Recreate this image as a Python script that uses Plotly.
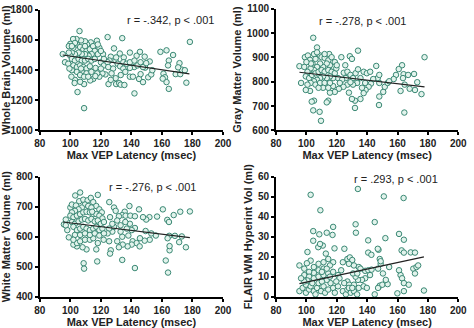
import plotly.graph_objects as go

# ---------------- data ----------------
wbv_x = [178.3,106,124.4,134,159,163,167.3,164.5,164,161,162,163,164.5,160.5,169,172,171.5,173,170.6,175,176,142,109,104.7,109,106.4,103,125,130,132,133,135.4,139,141,145,147.6,146,151,153,153.7,149,152,148.7,145.6,143.4,141.8,139,139,135,134.7,132.4,128.6,126.5,125.6,128,127,123,121,119,117.6,115,113,116.5,120,121.4,119,117.4,113.4,111,109.6,107,104,101.8,100,99,102,104.3,106.4,108.5,110.6,112.8,114.9,116,114,112,109.6,107.5,105.4,103,101,100,95,96.5,101,103,105.4,107.5,109.6,111.7,113.8,116,102,104.3,106.4,108.5,110.6,112.8,101,104.3,107.5,110.6,113.8,106.4,122,124.4,122,129.6,131,130,132.6,134.7,136.8,139,142,144,146,147.6,149.7,136,133,129.7,126.5,124.8,118,120,118,109.6,103,101,99,98.6,99.4,100.7,102.8,107,109,111.7,116.4,120]
wbv_y = [1587,1659,1619,1612,1521,1531,1500,1463,1431,1376,1352,1320,1275,1343,1373,1373,1446,1403,1418,1399,1316,1245,1147,1254,1307,1322,1335,1307,1307,1313,1303,1301,1356,1356,1341,1320,1373,1352,1371,1399,1416,1457,1489,1521,1495,1420,1414,1516,1484,1452,1510,1544,1489,1463,1410,1378,1371,1378,1356,1378,1341,1331,1414,1452,1506,1548,1595,1584,1570,1591,1597,1606,1606,1574,1559,1548,1570,1553,1538,1527,1538,1559,1527,1506,1495,1506,1506,1516,1506,1516,1495,1506,1452,1474,1463,1474,1463,1463,1474,1463,1474,1431,1420,1431,1420,1410,1425,1399,1388,1388,1378,1388,1367,1431,1452,1474,1463,1442,1484,1425,1410,1442,1452,1463,1431,1452,1420,1446,1388,1367,1346,1335,1420,1506,1527,1570,1559,1580,1559,1516,1442,1410,1356,1314,1410,1356,1356,1360,1410]
wbv_fit_x = [95, 178]
wbv_fit_y = [1500, 1375]

gm_x = [177.8,104.5,107,115,123,128.6,130,134,146,163,160.8,159,164,167,170.9,163.6,164.7,162,168,171.5,173,175.8,164.5,147.8,148,150.6,151.6,153.5,148,147,148,144,142.5,141,139,137.7,135.6,132,132,130,128,127,126,124.6,125.6,127,129,130.7,132.4,134,135.6,133.4,130.7,137.7,139.8,142,138.7,136.6,124.4,121.4,118.7,117.6,115.5,114.4,113.4,108.7,104.5,109.6,105,103.5,102.4,99.6,96.5,95.4,98.6,99,101,102.4,104,106,109,110,112,114.4,116.6,118.7,117.6,115.5,113.4,111,109,107,105,102.8,100.7,99.6,101.8,103.7,106,108,110,112,114.4,116.6,118.7,119.7,120.8,117.6,115.5,113.4,111,109,107,105,102.8,100.7,106,109,112,115.5,111,108,114.4,103,100,105,107,112,120,123.5,122,129,157.5,154.5]
gm_y = [901,981,941,914,901,905,894,928,865,868,852,828,831,828,832,815,788,762,771,766,798,749,673,704,739,758,779,795,795,815,828,811,792,779,766,753,729,722,692,729,755,788,815,837,868,841,828,815,835,851,815,795,788,841,835,841,795,775,779,771,758,782,755,722,715,676,682,639,722,718,762,766,795,864,861,901,908,890,875,894,908,901,898,888,901,881,861,868,875,861,875,861,848,855,841,822,815,828,835,841,848,841,848,841,835,855,815,815,822,815,822,815,808,802,795,788,788,795,795,795,775,775,775,875,881,914,921,914,868,808,795,798,811,802]
gm_fit_x = [95.4, 177.8]
gm_fit_y = [839, 779]

wm_x = [178.3,106.4,103.2,118,125.5,160.6,145,172,167.7,163.5,164.6,156.8,151.8,149.7,147.6,138.7,135.6,134,136.2,139.3,142.3,139,142.3,140.2,138,140.8,143.4,140.2,137.5,134.3,131.8,130.7,134,127.5,128.6,127.5,126,128.6,129.7,131.8,125.4,124.4,125.4,126.5,126,121.8,118,117,117.6,108.7,109,142.3,134,162.5,164,165,165,164.8,163.7,168.5,173,171.3,175.7,156,153,149.3,152,148.7,145.6,145.4,110.6,108,104.3,102,104.3,106.4,109.6,112.8,115,95.8,97,99,100,101,103.7,105.8,108.5,111.3,113.4,115,117,119,120.6,109.6,111.7,113.8,107.5,105.4,103,101,100,102,104.3,106.4,108.5,110.6,112.8,115,117,119,121,101,103,105.4,107.5,109.6,111.7,113.8,116,118,120,122,102,104.3,106.4,108.5,110.6,112.8,115,117,119,121,103,106.4,109.6,112.8,116,119,122,102,98,97,114.3,130.7,132.9,136,137,132.9]
wm_y = [684,747,737,739,715,691,691,683,672,656,649,667,665,657,665,702,683,672,670,670,668,643,629,622,604,585,579,574,568,574,565,585,600,617,633,643,665,697,686,668,627,611,585,555,544,590,579,558,518,512,494,496,523,521,481,555,569,603,595,603,601,582,565,604,611,619,590,587,595,568,558,565,568,574,579,585,590,590,595,641,657,598,697,707,704,718,723,721,729,715,702,691,681,707,702,697,697,691,686,681,670,665,670,675,681,683,681,675,675,670,661,649,643,651,657,659,654,659,651,654,643,649,633,622,627,633,627,622,627,633,622,627,606,606,611,606,611,604,611,590,622,638,683,654,638,649,627,617]
wm_fit_x = [95.2, 178.3]
wm_fit_y = [649, 597]

fl_x = [133.9,102.8,151,164,109.2,132.4,145,117.6,132.6,104.5,113.4,117.2,108.5,161,152,164.2,140.7,104.5,110.8,107.8,118.5,125,140.7,142.8,147.5,147,162.7,164.2,168.7,171.5,100.7,112.8,109,102.8,100.3,95.4,98.6,104.9,108,111.3,114.4,117.6,115.5,111.3,108,104.9,101.8,98.6,101.8,104.9,108,111.3,114.4,117.6,120.8,121.8,124,127,128.6,130.2,128,131.3,134.5,135.6,138.7,140.8,142.9,147.2,148.9,148.3,148.9,150.4,141.9,138.7,136.6,134,132.4,130.7,133.5,127,124.9,128.2,131.3,134.5,137.7,139.8,148.3,147.2,150,153.5,145,159.9,162,163,164.2,167.4,170.4,171.5,172.5,173.6,177.4,161,95.4,97.5,99.7,99.7,101.8,102.8,104.9,106,107,108,109.6,111.3,112.3,114.4,115.9,117.6,118.7,120.8,124,126,127,129.2,131.3,133.4,128,130.2,119.7,113.4,110.2,103.9,100.7,98.6,115.5,110.2,113.4,122.9,96.5,164.2,152.3,154.5]
fl_y = [53.8,50.9,50.1,49.3,43.2,36.2,37.3,34.9,32,32.8,32,30.9,31.2,31.4,29.3,28.5,28.2,28,25.6,24.8,24.2,24,22.1,21,23.5,24,23.2,22.1,22.2,22.1,22.4,21.6,26.4,18.1,16.8,15.7,14.1,14.9,16.5,17.3,18.9,17.3,15.7,14.1,13.3,12,12.5,10.9,10.1,9.3,10.1,10.9,11.7,12.5,10.9,9.3,17.3,18.9,19.7,18.4,16.5,15.7,14.9,14.1,13,13.3,13.6,14.1,16.5,18.9,17.8,11.7,10.9,9.3,8.5,8.5,10.1,11.7,11.7,7.7,6.9,6.1,6.1,4.5,5.3,4.5,5.6,4.5,6.1,6.4,1.3,1.8,10.9,9.3,6.9,6.1,14.1,11.7,14.9,15.7,3.2,13.3,2.9,4.5,6.1,2.1,3.7,5.3,2.9,1.3,4.5,6.9,2.9,5.3,2.1,3.7,6.9,4.5,2.1,5.3,2.9,1.3,3.7,2.1,2.9,1.3,4.5,4.5,7.7,8.5,7.7,6.9,8.2,7.7,10.1,12.5,14.1,13.3,9.3,2.9,8.5,14.9]
fl_fit_x = [95.4, 177.4]
fl_fit_y = [6.6, 20.0]

x_ticks = [80, 100, 120, 140, 160, 180, 200]
x_title = "Max VEP Latency (msec)"

panels = [
    dict(x=wbv_x, y=wbv_y, fx=wbv_fit_x, fy=wbv_fit_y, yr=[1000, 1800], dt=200,
         title="Whole Brain Volume (ml)", note="r = -.342, p < .001", nx=165.9, ny=1730),
    dict(x=gm_x, y=gm_y, fx=gm_fit_x, fy=gm_fit_y, yr=[600, 1100], dt=100,
         title="Gray Matter Volume (ml)", note="r = -.278, p < .001", nx=137, ny=1052),
    dict(x=wm_x, y=wm_y, fx=wm_fit_x, fy=wm_fit_y, yr=[400, 800], dt=100,
         title="White Matter Volume (ml)", note="r = -.276, p < .001", nx=154, ny=765),
    dict(x=fl_x, y=fl_y, fx=fl_fit_x, fy=fl_fit_y, yr=[0, 60], dt=10,
         title="FLAIR WM Hyperint Vol (ml)", note="r = .293, p < .001", nx=159, ny=58.8),
]

W, H = 474, 328
# plot-area pixel boxes (left, right, top, bottom)
boxes = [(33, 223, 4, 129), (278, 467, 3, 129), (33, 223, 177, 302), (278, 467, 177, 302)]

fig = go.Figure()
font_family = "Liberation Sans, Arial, sans-serif"
layout = dict(width=W, height=H, margin=dict(l=0, r=0, t=0, b=0),
              paper_bgcolor="white", plot_bgcolor="white", showlegend=False,
              font=dict(family=font_family, color="black"))
annotations = []
for i, (p, b) in enumerate(zip(panels, boxes)):
    n = "" if i == 0 else str(i + 1)
    xa, ya = "x" + n, "y" + n
    fig.add_trace(go.Scatter(x=p["x"], y=p["y"], mode="markers", xaxis=xa, yaxis=ya,
                             cliponaxis=False,
                             marker=dict(size=5.5, color="#e2f3ec",
                                         line=dict(color="#3a8874", width=1))))
    fig.add_trace(go.Scatter(x=p["fx"], y=p["fy"], mode="lines", xaxis=xa, yaxis=ya,
                             line=dict(color="#222222", width=1.2)))
    l, r, t, bt = b
    common = dict(showline=True, linecolor="black", linewidth=2, ticks="outside",
                  ticklen=3, tickwidth=1.5, tickcolor="black", showgrid=False,
                  zeroline=False, mirror=False,
                  tickfont=dict(size=10, family=font_family, weight="bold", color="#222"))
    layout["xaxis" + n] = dict(domain=[l / W, r / W], range=[80, 200], tickvals=x_ticks,
                               anchor=ya, title=dict(text=x_title, standoff=1,
                               font=dict(size=11, family=font_family, weight="bold", color="#222")),
                               **common)
    y0, y1 = p["yr"]
    layout["yaxis" + n] = dict(domain=[1 - bt / H, 1 - t / H], range=[y0, y1],
                               tickvals=list(range(y0, y1 + 1, p["dt"])), anchor=xa,
                               title=dict(text=p["title"], standoff=3,
                               font=dict(size=11, family=font_family, weight="bold", color="#222")),
                               **common)
    annotations.append(dict(x=p["nx"], y=p["ny"], xref=xa, yref=ya, text=p["note"],
                            showarrow=False, font=dict(size=11, family=font_family, color="#222")))
layout["annotations"] = annotations
fig.update_layout(**layout)
fig.write_html("out.html")
